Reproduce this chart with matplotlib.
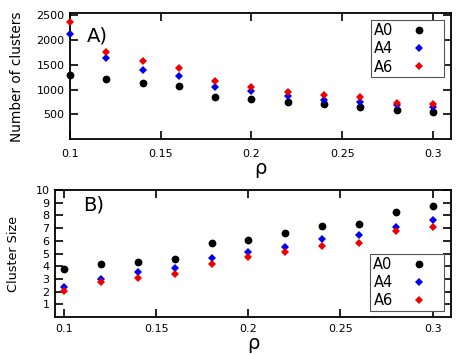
import matplotlib
matplotlib.use("Agg")
import matplotlib.pyplot as plt

rho = [0.10, 0.12, 0.14, 0.16, 0.18, 0.20, 0.22, 0.24, 0.26, 0.28, 0.30]

n_A0 = [1300, 1210, 1135, 1080, 855, 812, 748, 715, 655, 582, 548]
n_A4 = [2105, 1627, 1387, 1280, 1053, 967, 867, 787, 747, 687, 647]
n_A6 = [2365, 1753, 1567, 1433, 1167, 1047, 953, 880, 847, 733, 700]

s_A0 = [3.75, 4.21, 4.34, 4.58, 5.79, 6.05, 6.58, 7.18, 7.32, 8.24, 8.76]
s_A4 = [2.39, 3.03, 3.53, 3.82, 4.61, 5.13, 5.55, 6.11, 6.45, 7.05, 7.66]
s_A6 = [2.05, 2.76, 3.11, 3.37, 4.16, 4.74, 5.13, 5.61, 5.84, 6.74, 7.11]

labels = ["A0", "A4", "A6"]
xticks = [0.1, 0.15, 0.2, 0.25, 0.3]
xticklabels = ["0.1", "0.15", "0.2", "0.25", "0.3"]

fig = plt.figure(figsize=(4.74, 3.55), dpi=100)
ax1 = fig.add_axes([0.1477, 0.6076, 0.9515 - 0.1477, 0.9625 - 0.6076])
ax2 = fig.add_axes([0.116, 0.107, 0.9515 - 0.116, 0.4648 - 0.107])

styles = [dict(marker="o", color="black", ms=5.6),
          dict(marker="D", color="#0000ee", ms=4.3),
          dict(marker="D", color="#ee0000", ms=4.3)]

legbbox = {"A)": (0.9815, 0.945), "B)": (0.9815, 0.045)}


def draw(ax, series, xlim, ylim, yticks, ylabel, ylsize, ylpad, xtpad, xlpad, tag, tagpos, legloc):
    for ys, lab, st in zip(series, labels, styles):
        ax.plot(rho, ys, linestyle="none", marker=st["marker"], color=st["color"],
                markersize=st["ms"], markeredgewidth=0, label=lab, clip_on=False, zorder=3)
    ax.set_xlim(*xlim)
    ax.set_ylim(*ylim)
    ax.set_xticks(xticks)
    ax.set_xticklabels(xticklabels)
    ax.set_yticks(yticks)
    ax.tick_params(direction="in", length=6, width=1.2, top=True, right=True,
                   labelsize=8, pad=4)
    ax.tick_params(axis="x", pad=xtpad)
    for sp in ax.spines.values():
        sp.set_linewidth(1.3)
    ax.set_ylabel(ylabel, fontsize=ylsize, labelpad=ylpad)
    ax.set_xlabel("ρ", fontsize=14, labelpad=xlpad)
    ax.text(tagpos[0], tagpos[1], tag, transform=ax.transAxes, fontsize=14,
            va="center", ha="left")
    leg = ax.legend(loc=legloc, markerfirst=False, frameon=True, fancybox=False,
                    fontsize=10.5, handlelength=3.0, handletextpad=0.3,
                    borderpad=0.2, labelspacing=0.22, borderaxespad=0.0,
                    bbox_to_anchor=legbbox[tag], framealpha=1)
    leg.get_frame().set_edgecolor("#555555")
    leg.get_frame().set_linewidth(0.8)


draw(ax1, [n_A0, n_A4, n_A6], (0.1, 0.31), (0, 2530),
     [500, 1000, 1500, 2000, 2500], "Number of clusters", 9.8, 9, 7, 0,
     "A)", (0.045, 0.82), "upper right")
draw(ax2, [s_A0, s_A4, s_A6], (0.095, 0.31), (0, 10),
     list(range(1, 11)), "Cluster Size", 9.2, 11, 5, 0,
     "B)", (0.07, 0.88), "lower right")

fig.savefig("out.png", dpi=100)
